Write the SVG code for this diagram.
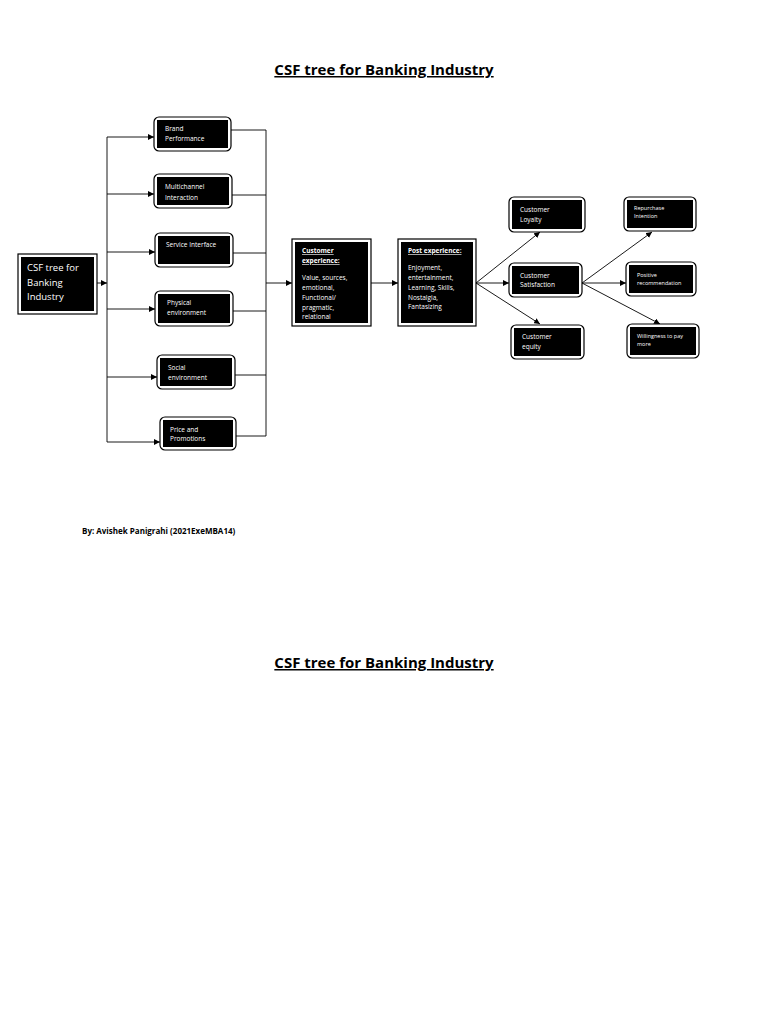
<svg xmlns="http://www.w3.org/2000/svg" width="768" height="1024" viewBox="0 0 768 1024">
<style>
.t{font-family:"Open Sans","Liberation Sans",sans-serif;fill:#fff;font-size:6.5px}
.o{fill:#fff;stroke:#000;stroke-width:1.2}
.i{fill:#000}
.c{stroke:#000;stroke-width:0.9;fill:none}
.h{font-family:"Open Sans","Liberation Sans",sans-serif;font-weight:bold;font-size:15px;text-decoration:underline}
</style>
<defs><marker id="a" markerWidth="6" markerHeight="6" refX="6" refY="3" orient="auto" markerUnits="userSpaceOnUse"><path d="M0,0L6,3L0,6z"/></marker></defs>
<rect width="768" height="1024" fill="#fff"/>
<text class="h" x="384" y="75" text-anchor="middle">CSF tree for Banking Industry</text>
<text class="h" x="384" y="668" text-anchor="middle">CSF tree for Banking Industry</text>
<text x="82" y="534" style="font-family:'Open Sans','Liberation Sans',sans-serif;font-weight:bold;font-size:8px">By: Avishek Panigrahi (2021ExeMBA14)</text>
<g id="connectors" class="c">
<path d="M97,283H107" marker-end="url(#a)"/>
<path d="M107,137V442"/>
<path d="M107,137H154" marker-end="url(#a)"/>
<path d="M107,194H154" marker-end="url(#a)"/>
<path d="M107,252H155" marker-end="url(#a)"/>
<path d="M107,309H155" marker-end="url(#a)"/>
<path d="M107,377H157" marker-end="url(#a)"/>
<path d="M107,442H160" marker-end="url(#a)"/>
<path d="M231,130H266V436H236"/>
<path d="M232,195H266M233,253H266M233,311H266M235,375H266"/>
<path d="M266,283H292" marker-end="url(#a)"/>
<path d="M371,283H398" marker-end="url(#a)"/>
<path d="M476,283L540,232" marker-end="url(#a)"/>
<path d="M476,283H509" marker-end="url(#a)"/>
<path d="M476,283L540,324" marker-end="url(#a)"/>
<path d="M582,283L652,232" marker-end="url(#a)"/>
<path d="M582,283H626" marker-end="url(#a)"/>
<path d="M582,283L660,324" marker-end="url(#a)"/>
</g>
<g id="root"><rect x="18" y="254" width="79" height="60" class="o"/><rect x="21" y="257" width="73" height="54" class="i"/>
<text class="t" style="font-size:9.5px"><tspan x="27" y="271">CSF tree for</tspan><tspan x="27" y="286">Banking</tspan><tspan x="27" y="300">Industry</tspan></text></g>
<g id="brand"><rect x="154" y="117" width="77" height="34" rx="5" class="o"/><rect x="157" y="120" width="71" height="28" class="i"/><text class="t"><tspan x="165" y="131">Brand</tspan><tspan x="165" y="141">Performance</tspan></text></g>
<g id="multi"><rect x="154" y="174" width="78" height="34" rx="5" class="o"/><rect x="157" y="177" width="72" height="28" class="i"/><text class="t"><tspan x="165" y="189">Multichannel</tspan><tspan x="165" y="200">Interaction</tspan></text></g>
<g id="service"><rect x="155" y="233" width="78" height="34" rx="5" class="o"/><rect x="158" y="236" width="72" height="28" class="i"/><text class="t"><tspan x="166" y="247">Service Interface</tspan></text></g>
<g id="physical"><rect x="155" y="291" width="78" height="35" rx="5" class="o"/><rect x="158" y="294" width="72" height="29" class="i"/><text class="t"><tspan x="167" y="305">Physical</tspan><tspan x="167" y="315">environment</tspan></text></g>
<g id="social"><rect x="157" y="355" width="78" height="34" rx="5" class="o"/><rect x="160" y="358" width="72" height="28" class="i"/><text class="t"><tspan x="168" y="370">Social</tspan><tspan x="168" y="380">environment</tspan></text></g>
<g id="price"><rect x="160" y="417" width="76" height="33" rx="5" class="o"/><rect x="163" y="420" width="70" height="27" class="i"/><text class="t"><tspan x="170" y="432">Price and</tspan><tspan x="170" y="441">Promotions</tspan></text></g>
<g id="cx"><rect x="292" y="239" width="79" height="87" class="o"/><rect x="295" y="242" width="73" height="81" class="i"/>
<text class="t" style="font-weight:bold;text-decoration:underline"><tspan x="302" y="253">Customer</tspan><tspan x="302" y="263">experience:</tspan></text>
<text class="t"><tspan x="302" y="280">Value, sources,</tspan><tspan x="302" y="290">emotional,</tspan><tspan x="302" y="300">Functional/</tspan><tspan x="302" y="310">pragmatic,</tspan><tspan x="302" y="319">relational</tspan></text></g>
<g id="post"><rect x="398" y="239" width="78" height="87" class="o"/><rect x="401" y="242" width="72" height="81" class="i"/>
<text class="t" style="font-weight:bold;text-decoration:underline"><tspan x="408" y="253">Post experience:</tspan></text>
<text class="t"><tspan x="408" y="270">Enjoyment,</tspan><tspan x="408" y="280">entertainment,</tspan><tspan x="408" y="290">Learning, Skills,</tspan><tspan x="408" y="300">Nostalgia,</tspan><tspan x="408" y="309">Fantasizing</tspan></text></g>
<g id="loyalty"><rect x="509" y="197" width="76" height="35" rx="5" class="o"/><rect x="512" y="200" width="70" height="29" class="i"/><text class="t"><tspan x="520" y="212">Customer</tspan><tspan x="520" y="222">Loyalty</tspan></text></g>
<g id="satisfaction"><rect x="509" y="263" width="73" height="34" rx="5" class="o"/><rect x="512" y="266" width="67" height="28" class="i"/><text class="t"><tspan x="520" y="278">Customer</tspan><tspan x="520" y="287">Satisfaction</tspan></text></g>
<g id="equity"><rect x="511" y="325" width="73" height="34" rx="5" class="o"/><rect x="514" y="328" width="67" height="28" class="i"/><text class="t"><tspan x="522" y="339">Customer</tspan><tspan x="522" y="349">equity</tspan></text></g>
<g id="repurchase"><rect x="624" y="197" width="72" height="34" rx="5" class="o"/><rect x="627" y="200" width="66" height="28" class="i"/><text class="t" style="font-size:5.5px"><tspan x="634" y="210">Repurchase</tspan><tspan x="634" y="218">Intention</tspan></text></g>
<g id="positive"><rect x="626" y="262" width="70" height="34" rx="5" class="o"/><rect x="629" y="265" width="64" height="28" class="i"/><text class="t" style="font-size:5.5px"><tspan x="637" y="277">Positive</tspan><tspan x="637" y="285">recommendation</tspan></text></g>
<g id="willingness"><rect x="627" y="324" width="72" height="34" rx="5" class="o"/><rect x="630" y="327" width="66" height="28" class="i"/><text class="t" style="font-size:5.5px"><tspan x="637" y="338">Willingness to pay</tspan><tspan x="637" y="346">more</tspan></text></g>
</svg>
